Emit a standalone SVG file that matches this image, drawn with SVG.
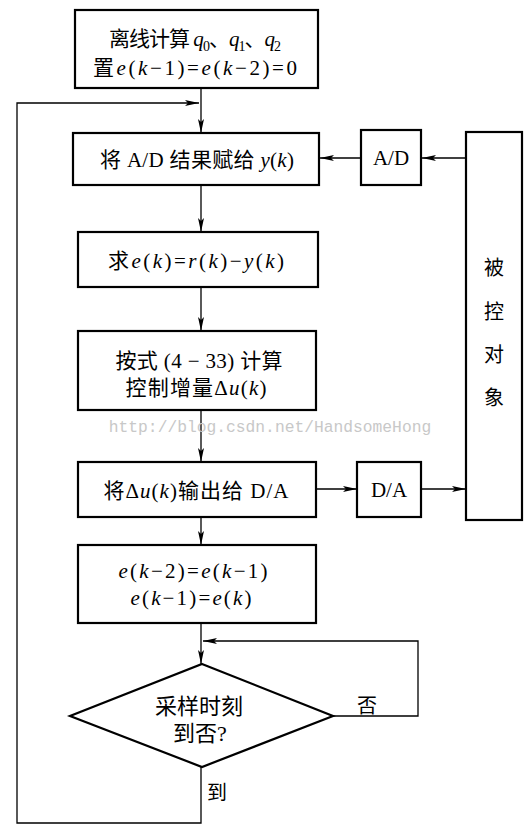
<svg xmlns="http://www.w3.org/2000/svg" width="531" height="833" viewBox="0 0 531 833">
<style>
  .box{fill:#fff;stroke:#000;stroke-width:2.2}
  .ln{fill:none;stroke:#000;stroke-width:1.3}
  .t{font-family:"Liberation Serif","Noto Sans CJK SC",serif;font-size:20px;fill:#000;text-anchor:middle}
  .f{font-size:21px}
  .d{font-size:22px}
  .i{font-style:italic}
  .sub{font-size:14px}
  .wm{font-family:"Liberation Mono",monospace;font-size:16.3px;fill:#c8c8c8;text-anchor:middle}
</style>
<defs>
  <marker id="arr" viewBox="0 0 14 6" refX="14" refY="3" markerWidth="14" markerHeight="6" markerUnits="userSpaceOnUse" orient="auto">
    <path d="M0,0 L14,3 L0,6 L3,3 Z" fill="#000"/>
  </marker>
</defs>
<rect width="531" height="833" fill="#fff"/>

<g id="connectors">
  <line class="ln" x1="201" y1="88" x2="201" y2="133" marker-end="url(#arr)"/>
  <polyline class="ln" points="201,767 201,823 17,823 17,103 199,103" marker-end="url(#arr)"/>
  <line class="ln" x1="201" y1="185" x2="201" y2="232" marker-end="url(#arr)"/>
  <line class="ln" x1="201" y1="287" x2="201" y2="331" marker-end="url(#arr)"/>
  <line class="ln" x1="201" y1="410" x2="201" y2="462" marker-end="url(#arr)"/>
  <line class="ln" x1="201" y1="517" x2="201" y2="545" marker-end="url(#arr)"/>
  <line class="ln" x1="201" y1="623" x2="201" y2="664" marker-end="url(#arr)"/>
  <polyline class="ln" points="333,716 418,716 418,641 203,641" marker-end="url(#arr)"/>
  <line class="ln" x1="466" y1="158" x2="422" y2="158" marker-end="url(#arr)"/>
  <line class="ln" x1="361" y1="158" x2="320" y2="158" marker-end="url(#arr)"/>
  <line class="ln" x1="317" y1="489" x2="357" y2="489" marker-end="url(#arr)"/>
  <line class="ln" x1="421" y1="489" x2="466" y2="489" marker-end="url(#arr)"/>
</g>

<g id="init">
  <rect class="box" x="75" y="10" width="243" height="78"/>
  <text class="t f" x="195" y="46" textLength="172" lengthAdjust="spacing">离线计算 <tspan class="i">q</tspan><tspan class="sub" dy="5">0</tspan><tspan dy="-5">、</tspan><tspan class="i">q</tspan><tspan class="sub" dy="5">1</tspan><tspan dy="-5">、</tspan><tspan class="i">q</tspan><tspan class="sub" dy="5">2</tspan></text>
  <text class="t f" x="195" y="75" textLength="204" lengthAdjust="spacing">置<tspan class="i">e</tspan>(<tspan class="i">k</tspan>−1)=<tspan class="i">e</tspan>(<tspan class="i">k</tspan>−2)=0</text>
</g>

<g id="read">
  <rect class="box" x="73" y="133" width="246" height="52"/>
  <text class="t f" x="197" y="167" textLength="194" lengthAdjust="spacing">将 A/D 结果赋给 <tspan class="i">y</tspan>(<tspan class="i">k</tspan>)</text>
</g>

<g id="ad">
  <rect class="box" x="361" y="130" width="60" height="55"/>
  <text class="t f" x="391" y="165">A/D</text>
</g>

<g id="plant">
  <rect class="box" x="466" y="132" width="56" height="388"/>
  <text class="t" x="494" y="275">被</text>
  <text class="t" x="494" y="319">控</text>
  <text class="t" x="494" y="362">对</text>
  <text class="t" x="494" y="405">象</text>
</g>

<g id="error">
  <rect class="box" x="78" y="232" width="240" height="55"/>
  <text class="t f" x="196" y="268" textLength="176" lengthAdjust="spacing">求<tspan class="i">e</tspan>(<tspan class="i">k</tspan>)=<tspan class="i">r</tspan>(<tspan class="i">k</tspan>)−<tspan class="i">y</tspan>(<tspan class="i">k</tspan>)</text>
</g>

<g id="calc">
  <rect class="box" x="78" y="331" width="238" height="79"/>
  <text class="t f" x="199" y="368" textLength="167" lengthAdjust="spacing">按式 (4 − 33) 计算</text>
  <text class="t f" x="196" y="395" textLength="141" lengthAdjust="spacing">控制增量Δ<tspan class="i">u</tspan>(<tspan class="i">k</tspan>)</text>
</g>

<text class="wm" x="270" y="432">http://blog.csdn.net/HandsomeHong</text>

<g id="output">
  <rect class="box" x="78" y="462" width="238" height="55"/>
  <text class="t f" x="196" y="498" textLength="185" lengthAdjust="spacing">将Δ<tspan class="i">u</tspan>(<tspan class="i">k</tspan>)输出给 D/A</text>
</g>

<g id="da">
  <rect class="box" x="357" y="462" width="64" height="55"/>
  <text class="t f" x="389" y="497">D/A</text>
</g>

<g id="shift">
  <rect class="box" x="78" y="545" width="238" height="78"/>
  <text class="t f" x="193" y="578" textLength="149" lengthAdjust="spacing"><tspan class="i">e</tspan>(<tspan class="i">k</tspan>−2)=<tspan class="i">e</tspan>(<tspan class="i">k</tspan>−1)</text>
  <text class="t f" x="191" y="605" textLength="121" lengthAdjust="spacing"><tspan class="i">e</tspan>(<tspan class="i">k</tspan>−1)=<tspan class="i">e</tspan>(<tspan class="i">k</tspan>)</text>
</g>

<g id="decision">
  <polygon class="box" points="202,664 333,716 202,767 70,716"/>
  <text class="t d" x="199" y="714">采样时刻</text>
  <text class="t d" x="200" y="741">到否?</text>
</g>

<text class="t" x="367" y="713">否</text>
<text class="t" x="217" y="800">到</text>
</svg>
